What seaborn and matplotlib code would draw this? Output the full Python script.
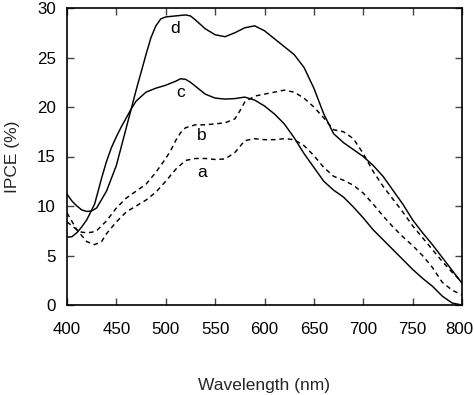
import matplotlib
matplotlib.use("Agg")
import matplotlib.pyplot as plt
import matplotlib.transforms as mtransforms
import seaborn as sns
import pandas as pd

sns.set_style("ticks")
plt.rcParams['font.family'] = ['Liberation Sans', 'DejaVu Sans']

# Curve a (dashed)
wl_a = [400, 410, 420, 428, 435, 440, 450, 460, 470, 480, 490, 500, 510, 520, 530, 540, 550, 560,
        570, 580, 590, 600, 610, 620, 630, 640, 650, 660, 670, 680, 690, 700, 710, 720, 730, 740,
        750, 760, 770, 780, 790, 800]
ipce_a = [9.3, 7.6, 6.4, 6.1, 6.4, 7.2, 8.4, 9.4, 10.0, 10.6, 11.4, 12.5, 13.7, 14.6, 14.8, 14.8, 14.7, 14.75,
          15.4, 16.6, 16.8, 16.7, 16.7, 16.8, 16.7, 16.1, 15.1, 13.9, 13.0, 12.6, 12.1, 11.3, 10.2, 9.0, 7.9, 6.9,
          6.0, 5.0, 3.8, 2.3, 1.5, 1.0]

# Curve b (dashed)
wl_b = [400, 410, 415, 420, 425, 430, 440, 450, 460, 470, 480, 490, 500, 505, 510, 515, 520, 530, 540, 550,
        560, 570, 575, 580, 590, 600, 610, 620, 630, 640, 650, 660, 670, 680, 690, 700, 710, 720, 730,
        740, 750, 760, 770, 780, 790, 800]
ipce_b = [8.4, 7.6, 7.35, 7.3, 7.35, 7.5, 8.5, 9.8, 10.8, 11.5, 12.2, 13.4, 14.8, 15.6, 16.6, 17.4, 17.9, 18.2, 18.2, 18.3,
          18.4, 18.8, 19.6, 20.5, 21.1, 21.3, 21.5, 21.7, 21.5, 20.9, 20.0, 18.9, 17.7, 17.5, 16.8, 15.3, 13.5, 12.0, 10.7,
          9.4, 8.0, 6.8, 5.6, 4.4, 3.3, 2.3]

# Curve c (solid)
wl_c = [400, 405, 410, 415, 420, 428, 435, 440, 445, 450, 455, 460, 465, 470, 480, 490, 500, 510, 515, 520,
        525, 530, 540, 550, 560, 570, 580, 590, 600, 610, 620, 630, 640, 650, 660, 670, 680, 690, 700,
        710, 720, 730, 740, 750, 760, 770, 780, 790, 800]
ipce_c = [6.85, 6.9, 7.3, 7.9, 8.6, 10.2, 12.8, 14.5, 15.9, 17.0, 18.0, 18.9, 19.8, 20.6, 21.5, 21.9, 22.2, 22.6, 22.85, 22.8,
          22.5, 22.1, 21.3, 20.9, 20.8, 20.85, 21.0, 20.7, 20.1, 19.3, 18.3, 16.9, 15.3, 13.9, 12.5, 11.6, 10.9, 9.9, 8.8,
          7.6, 6.6, 5.6, 4.6, 3.6, 2.7, 1.9, 0.9, 0.2, 0.0]

# Curve d (solid)
wl_d = [400, 405, 410, 415, 420, 425, 430, 440, 450, 460, 470, 480, 485, 490, 495, 500, 510, 520, 525, 530,
        540, 550, 560, 570, 580, 590, 600, 610, 620, 630, 640, 650, 660, 670, 680, 690, 700, 710, 720,
        730, 740, 750, 760, 770, 780, 790, 800]
ipce_d = [11.2, 10.5, 10.0, 9.6, 9.45, 9.5, 9.8, 11.5, 14.1, 17.9, 21.7, 25.3, 27.0, 28.2, 28.9, 29.1, 29.2, 29.3, 29.2, 28.8,
          27.9, 27.3, 27.1, 27.5, 28.0, 28.2, 27.7, 26.9, 26.1, 25.3, 24.0, 21.9, 19.3, 17.3, 16.4, 15.7, 15.0, 14.1, 13.0,
          11.6, 10.2, 8.6, 7.3, 6.1, 4.8, 3.5, 2.2]

curve_names = ["a", "b", "c", "d"]
label_x = [537, 536, 515, 509]
label_y = [13.4, 17.1, 21.5, 27.9]

x_ticks = [400, 450, 500, 550, 600, 650, 700, 750, 800]
y_ticks = [0, 5, 10, 15, 20, 25, 30]

fig = plt.figure(figsize=(4.74, 3.95), dpi=100)
ax = fig.add_axes([67/474, 1 - 305/395, (462 - 67)/474, (305 - 8)/395])

series = [(wl_a, ipce_a, True), (wl_b, ipce_b, True), (wl_c, ipce_c, False), (wl_d, ipce_d, False)]
for wl, ip, dashed in series:
    df = pd.DataFrame({"Wavelength": wl, "IPCE": ip})
    sns.lineplot(data=df, x="Wavelength", y="IPCE", ax=ax, color="black",
                 linewidth=1.05, sort=False)
    ln = ax.lines[-1]
    if dashed:
        ln.set_dashes((3.2, 2.6))

for name, lx, ly in zip(curve_names, label_x, label_y):
    ax.text(lx, ly, name, ha="center", va="center", fontsize=12.5, color="black")

ax.set_xlim(400, 800)
ax.set_ylim(0, 30)
ax.set_xticks(x_ticks)
ax.set_yticks(y_ticks)
ax.tick_params(direction="in", top=True, right=True, length=5, width=1.0,
               color="#444444", labelsize=12.2, labelcolor="black")
ax.tick_params(axis="x", pad=12)
ax.tick_params(axis="y", pad=8)
for sp in ax.spines.values():
    sp.set_visible(True)
    sp.set_linewidth(1.2)
    sp.set_color("black")

# nudge the last x tick label so it stays inside the canvas
last_lbl = ax.get_xticklabels()[-1]
last_lbl.set_transform(last_lbl.get_transform() +
                       mtransforms.ScaledTranslation(-3 / 100, 0, fig.dpi_scale_trans))

ax.set_xlabel("Wavelength (nm)", fontsize=12.5, labelpad=30)
ax.set_ylabel("IPCE (%)", fontsize=12.5, labelpad=12)

fig.savefig("out.png", dpi=100)
